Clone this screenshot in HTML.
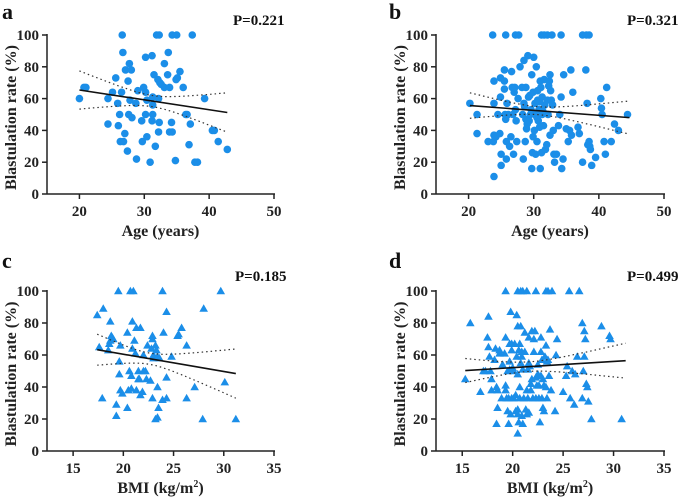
<!DOCTYPE html>
<html><head><meta charset="utf-8">
<style>
html,body{margin:0;padding:0;background:#fff;}
svg{display:block;font-family:"Liberation Serif",serif;font-weight:bold;}
svg text{font-family:"Liberation Serif","DejaVu Serif",serif;font-weight:bold;}
</style></head>
<body>
<svg id="fig" width="685" height="498" viewBox="0 0 685 498" font-family="Liberation Serif, serif" font-weight="bold"></svg>
<script>
// ---- data ----
const ageA=[20,20.7,21,24.4,24.4,25.1,25.6,25.9,26,26.2,26.3,26.5,26.6,26.7,26.8,27,27.1,27.4,27.5,27.7,27.6,27.8,28,28.1,28.7,28.8,29,29.6,29.7,29.9,30.2,30.2,30.2,30.4,30.4,30.9,31.2,31.2,31.3,31.3,31.3,31.5,31.7,31.9,32.1,32.2,32.2,32.3,32.3,32.4,32.6,33.1,33.1,33.6,33.7,33.9,33.9,34.2,34.3,34.3,34.8,34.9,35,35.1,35.5,36,36.4,36.6,36.9,37.1,37.4,37.8,38.2,39.3,40.5,40.8,41.4,42.8];
const rateA=[60,67,67,60,44,64,73,57,43,50,33,64,100,89,33,38,78,27,71,82,50,59,78,48,57,22,65,46,33,67,64,86,50,36,59,20,87,46,61,50,56,75,30,100,72,60,39,100,45,70,69,67,82,75,89,67,39,45,100,39,21,72,100,73,77,67,50,50,31,44,100,20,20,60,40,40,33,28];
const ageB=[23.7,25.7,27.2,27.7,31.2,31.6,32.1,32.8,34.2,37.5,38.1,38.5,20.2,21.3,21.3,23,23.8,23.9,23.9,23.9,23.9,24.2,24.5,24.8,24.9,24.9,25,25,25.5,25.5,25.5,25.6,25.7,25.8,25.8,25.9,26.1,26.3,26.5,26.6,26.7,26.8,26.9,27,27.1,27.2,27.3,27.4,27.9,28.2,28.3,28.4,28.5,28.5,28.7,28.8,28.8,28.9,29.1,29.2,29.3,29.5,29.6,29.7,29.7,29.8,29.9,29.9,30,30.1,30.2,30.2,30.3,30.4,30.5,30.6,30.6,30.7,30.8,30.9,31,31,31.1,31.2,31.3,31.3,31.5,31.6,31.7,31.8,32,32.1,32.2,32.4,32.5,32.5,32.6,32.7,32.9,33,33.1,33.2,33.5,33.8,34,34.2,34.3,34.5,34.6,35,35.3,35.5,35.7,35.8,36,36.8,37,37.5,38,38.2,38.3,38.5,38.6,38.7,38.9,39.5,40.3,40.4,40.5,40.8,41,41.2,41.9,42.4,43,44.4,28.6,29.4,30.5,31.4,27.6,29,30.9,32.3];
const rateB=[100,100,100,100,100,100,100,100,100,100,100,100,57,50,38,33,33,71,57,11,37,36,50,38,73,61,25,18,78,71,66,50,47,33,22,57,50,30,36,77,67,50,25,64,67,53,46,33,80,67,50,22,84,57,33,67,47,41,87,61,46,50,53,75,16,26,64,36,86,40,50,57,25,80,33,65,59,46,53,42,16,71,67,26,61,50,43,72,56,28,31,59,50,71,37,75,65,59,56,40,25,20,25,43,50,61,16,22,75,41,33,40,78,37,64,42,38,20,78,57,31,33,30,28,18,23,60,54,50,33,25,67,33,44,40,50,55,62,48,52,60,44,58,68];
const bmiC=[17.4,17.6,17.9,18,18.5,18.6,18.7,18.7,18.8,18.9,19,19.3,19.3,19.5,19.6,19.6,19.7,19.7,19.9,20.4,20.4,20.5,20.6,20.7,20.8,20.8,20.9,20.9,21,21.1,21.2,21.3,21.3,21.5,21.5,21.6,21.7,21.7,21.9,22,22,22.2,22.3,22.4,22.7,22.8,22.9,22.9,22.9,23,23,23.2,23.2,23.3,23.4,23.4,23.4,23.5,23.6,23.9,23.9,24,24.3,24.3,24.3,24.8,25.4,25.5,25.8,26.3,26.3,27.1,27.9,28,29.7,30.1,31.2];
const rateC=[85,65,33,89,63,67,69,81,72,71,70,29,22,100,56,48,66,38,36,74,27,38,50,100,47,39,64,81,100,69,61,77,38,45,50,45,77,35,37,50,60,50,45,66,44,64,72,33,70,60,58,66,20,63,21,59,40,27,58,100,32,74,87,46,33,59,72,73,77,33,66,40,20,89,100,43,20];
const bmiD=[19.3,20.5,20.8,21,21.4,22.3,23.3,23.5,23.9,25.6,26.6,15.3,15.8,16.8,17.1,17.3,17.5,17.6,17.6,17.7,17.8,17.9,17.9,18.2,18.3,18.4,18.4,18.5,18.5,18.7,18.7,18.9,19,19.2,19.3,19.3,19.3,19.4,19.5,19.5,19.6,19.6,19.7,19.7,19.7,19.8,19.8,19.9,19.9,19.9,20,20.1,20.1,20.2,20.3,20.3,20.4,20.4,20.5,20.5,20.5,20.5,20.5,20.6,20.6,20.7,20.7,20.7,20.8,20.8,20.9,20.9,20.9,21,21,21.1,21.2,21.2,21.3,21.4,21.4,21.5,21.5,21.6,21.6,21.6,21.7,21.8,21.8,21.9,21.9,22,22.1,22.1,22.2,22.3,22.3,22.4,22.5,22.5,22.6,22.6,22.7,22.8,22.8,22.8,22.9,22.9,23,23,23.1,23.1,23.2,23.3,23.3,23.4,23.4,23.5,23.6,23.7,23.8,24.2,24.4,24.3,25,25.3,25.4,25.7,25.9,26.1,26.2,26.4,26.9,26.9,27,27.1,27.1,27.2,27.3,27.4,27.5,27.8,28.8,29.6,29.7,30.8];
const rateD=[100,100,100,100,100,100,100,100,100,100,100,45,80,37,50,50,71,84,65,59,50,38,45,57,64,17,40,27,38,63,61,33,54,61,41,71,38,33,50,25,17,33,56,67,51,23,87,63,33,67,52,50,33,67,35,25,59,85,48,78,26,23,11,63,18,33,67,40,78,55,22,62,59,51,17,33,62,74,26,38,23,51,33,71,55,24,53,42,38,75,45,33,62,70,75,46,33,41,54,48,41,33,18,71,47,62,57,33,45,27,25,41,59,66,40,33,56,57,47,76,38,25,70,60,37,47,53,33,50,29,48,59,33,80,50,59,75,70,42,40,31,20,78,72,70,20];
// regression: [slope, intercept, xMean, minHalfWidth, curvature, xStart, xEnd]
const fitA=[-0.62,77.8,31.2,3.5,1.05,20,42.8];
const fitB=[-0.31,61.9,30.7,2.5,0.525,20.2,44.7];
const fitC=[-1.08,82.1,22.6,3.5,3.03,17.4,31.2];
const fitD=[0.39,44.3,21.6,3.0,1.2,15.3,31.2];
const pValues=["P=0.221","P=0.321","P=0.185","P=0.499"];
const xTicksAge=[20,30,40,50];
const xTicksBmi=[15,20,25,30,35];
const yTicks=[0,20,40,60,80,100];

const NS="http://www.w3.org/2000/svg";
const svg=document.getElementById('fig');
const BLUE="#1b8ee8";
const FF='"Liberation Serif", serif';
function mk(tag,attrs,parent){const e=document.createElementNS(NS,tag);for(const k in attrs)e.setAttribute(k,attrs[k]);if(tag==='text'){e.setAttribute('font-family',FF);e.setAttribute('font-weight','bold');}(parent||svg).appendChild(e);return e;}

function panel(o){
  const g=mk('g',{});
  
  
  const sx=v=>o.left+(v-o.xmin)/(o.xmax-o.xmin)*(o.right-o.left);
  const sy=v=>o.bottom-v/100*(o.bottom-o.top);
  const ya=mk('line',{x1:o.left,y1:o.top-1,x2:o.left,y2:o.bottom,stroke:'#222','stroke-width':1.5},g);
  
  
  const xa=mk('line',{x1:o.left,y1:o.bottom,x2:o.right+1,y2:o.bottom,stroke:'#222','stroke-width':1.5},g);
  
  
  yTicks.forEach(t=>{
    mk('line',{x1:o.left-5,y1:sy(t),x2:o.left,y2:sy(t),stroke:'#222','stroke-width':1.5},g);
    const tx=mk('text',{x:o.left-8,y:sy(t)+5,'text-anchor':'end','font-size':15,fill:'#222'},g);
    tx.textContent=t;
    
    
  });
  o.xticks.forEach(t=>{
    mk('line',{x1:sx(t),y1:o.bottom,x2:sx(t),y2:o.bottom+5,stroke:'#222','stroke-width':1.5},g);
    const tx=mk('text',{x:sx(t),y:o.bottom+22,'text-anchor':'middle','font-size':15,fill:'#222'},g);
    tx.textContent=t;
    
    
  });
  const yt=mk('text',{x:0,y:0,'text-anchor':'middle','font-size':16,fill:'#222',transform:`translate(${o.left-31},${(o.top+o.bottom)/2+3}) rotate(-90)`},g);
  yt.textContent='Blastulation rate (%)';
  
  
  const xt=mk('text',{x:(o.left+o.right)/2,y:o.bottom+42,'text-anchor':'middle','font-size':16,fill:'#222'},g);
  
  
  if(o.bmi){xt.innerHTML='BMI (kg/m<tspan dy="-6" font-size="10">2</tspan><tspan dy="6">)</tspan>';}
  else xt.textContent='Age (years)';
  const lt=mk('text',{x:o.lx,y:o.ly,'font-size':22,fill:'#111'},g);
  lt.textContent=o.letter;
  
  
  const pt=mk('text',{x:o.px,y:o.py,'font-size':15,fill:'#111'},g);
  pt.textContent=o.p;
  
  
  o.xs.forEach((xv,i)=>{
    const cx=sx(xv),cy=sy(o.ys[i]);
    let m;
    if(o.bmi) m=mk('polygon',{points:`${cx},${cy-4.3} ${cx+4.3},${cy+3.2} ${cx-4.3},${cy+3.2}`,fill:BLUE},g);
    else m=mk('circle',{cx:cx,cy:cy,r:3.8,fill:BLUE},g);
    
    
  });
  const f=o.fit, line=x=>f[0]*x+f[1], hw=x=>Math.sqrt(f[3]*f[3]+f[4]*(x-f[2])*(x-f[2]));
  const rl=mk('line',{x1:sx(f[5]),y1:sy(line(f[5])),x2:sx(f[6]),y2:sy(line(f[6])),stroke:'#111','stroke-width':1.6},g);
  
  
  [1,-1].forEach(s=>{
    let d='';
    for(let i=0;i<=40;i++){const x=f[5]+(f[6]-f[5])*i/40;d+=(i?'L':'M')+sx(x).toFixed(1)+','+sy(line(x)+s*hw(x)).toFixed(1);}
    const c=mk('path',{d:d,fill:'none',stroke:'#333','stroke-width':1.2,'stroke-dasharray':'1.5,3'},g);
    
    
  });
}
panel({letter:'a',xs:ageA,ys:rateA,fit:fitA,p:pValues[0],xticks:xTicksAge,xmin:15,xmax:50,left:47,right:274,top:35,bottom:194,lx:2,ly:19,px:233,py:25,bmi:false});
panel({letter:'b',xs:ageB,ys:rateB,fit:fitB,p:pValues[1],xticks:xTicksAge,xmin:15,xmax:50,left:436,right:664,top:35,bottom:194,lx:389,ly:19,px:627,py:25,bmi:false});
panel({letter:'c',xs:bmiC,ys:rateC,fit:fitC,p:pValues[2],xticks:xTicksBmi,xmin:12.4,xmax:35,left:47,right:274,top:291,bottom:451,lx:2,ly:268,px:235,py:281,bmi:true});
panel({letter:'d',xs:bmiD,ys:rateD,fit:fitD,p:pValues[3],xticks:xTicksBmi,xmin:12.4,xmax:35,left:436,right:664,top:291,bottom:451,lx:389,ly:268,px:627,py:281,bmi:true});
</script>
</body></html>
